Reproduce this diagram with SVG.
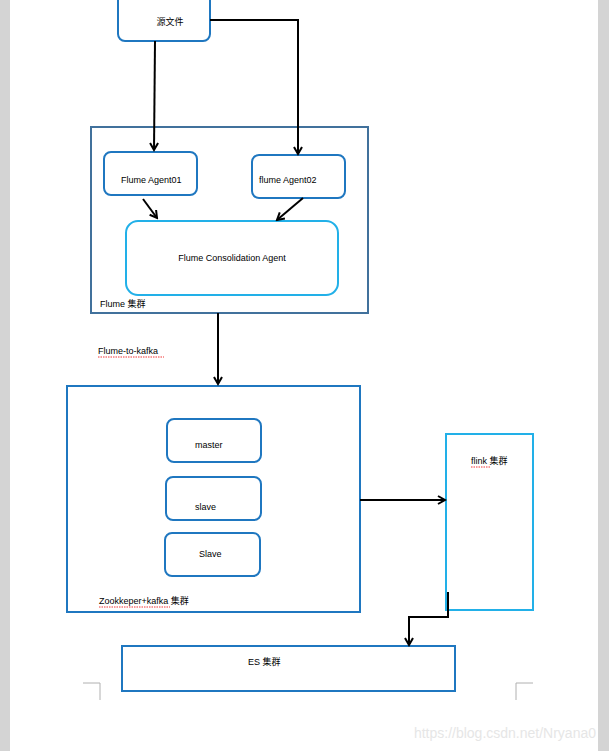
<svg xmlns="http://www.w3.org/2000/svg" width="609" height="751" viewBox="0 0 609 751">
<defs>
<marker id="ah" markerWidth="10" markerHeight="10" refX="8" refY="5" orient="auto" markerUnits="userSpaceOnUse"><path d="M1,1 L8,5 L1,9" fill="none" stroke="#000" stroke-width="2"/></marker>
</defs>
<style>
text{font-family:"Liberation Sans","Noto Sans CJK SC",sans-serif;font-size:9px;fill:#000}
.rb{fill:#fff;stroke:#1f77c0;stroke-width:2}
.c{fill:none;stroke:#000;stroke-width:2;marker-end:url(#ah)}
.sq{stroke:#e00;stroke-width:0.8;fill:none;stroke-dasharray:1.5 1}
</style>
<rect width="609" height="751" fill="#fff"/>
<rect x="0" y="0" width="10" height="751" fill="#d4d4d4"/>
<rect x="598" y="0" width="11" height="751" fill="#d4d4d4"/>
<g id="src"><rect class="rb" x="118" y="-8" width="92" height="49" rx="7"/><text x="170" y="25" text-anchor="middle">源文件</text></g>
<g id="flume"><rect x="91" y="127" width="277" height="186" fill="none" stroke="#41719c" stroke-width="2"/><text x="100" y="307">Flume 集群</text></g>
<g id="a1"><rect class="rb" x="104" y="152" width="93" height="43" rx="7"/><text x="121" y="183">Flume Agent01</text></g>
<g id="a2"><rect class="rb" x="252" y="155" width="93" height="43" rx="7"/><text x="259" y="183">flume Agent02</text></g>
<g id="cons"><rect x="126" y="221" width="212" height="74" rx="12" fill="#fff" stroke="#22b0e8" stroke-width="2"/><text x="232" y="261" text-anchor="middle">Flume Consolidation Agent</text></g>
<g id="f2k"><text x="98" y="354">Flume-to-kafka</text></g>
<g id="kafka"><rect x="67" y="386" width="293" height="226" fill="none" stroke="#1f77c0" stroke-width="2"/><text x="99" y="604">Zookkeper+kafka 集群</text></g>
<g id="master"><rect class="rb" x="167" y="419" width="94" height="43" rx="7"/><text x="195" y="448">master</text></g>
<g id="slave1"><rect class="rb" x="166" y="477" width="95" height="43" rx="7"/><text x="195" y="510">slave</text></g>
<g id="slave2"><rect class="rb" x="165" y="533" width="95" height="43" rx="7"/><text x="199" y="557">Slave</text></g>
<g id="flink"><rect x="446" y="434" width="87" height="176" fill="#fff" stroke="#22b0e8" stroke-width="2"/><text x="471" y="464">flink 集群</text></g>
<g id="es"><rect x="122" y="646" width="333" height="45" fill="#fff" stroke="#1f77c0" stroke-width="2"/><text x="248" y="665">ES 集群</text></g>
<g id="squiggles">
<path class="sq" d="M98,357 H164"/><path class="sq" d="M99,607 H170"/><path class="sq" d="M471,467 H490"/>
</g>
<g id="connectors">
<path class="c" d="M155,41 L154,150"/>
<path class="c" d="M210,20 H298 V154"/>
<path class="c" d="M143,199 L157,218"/>
<path class="c" d="M303,198 L277,220"/>
<path class="c" d="M218,313 V384"/>
<path class="c" d="M360,500 H445"/>
<path class="c" d="M448,592 V617 H409 V645"/>
</g>
<g id="marks" stroke="#b0b0b0" stroke-width="1" fill="none">
<path d="M83,683 H100 V700"/><path d="M533,683 H516 V700"/>
</g>
<text x="596" y="738" text-anchor="end" style="font-size:14px;fill:#e6e6e6">https://blog.csdn.net/Nryana0</text>
</svg>
